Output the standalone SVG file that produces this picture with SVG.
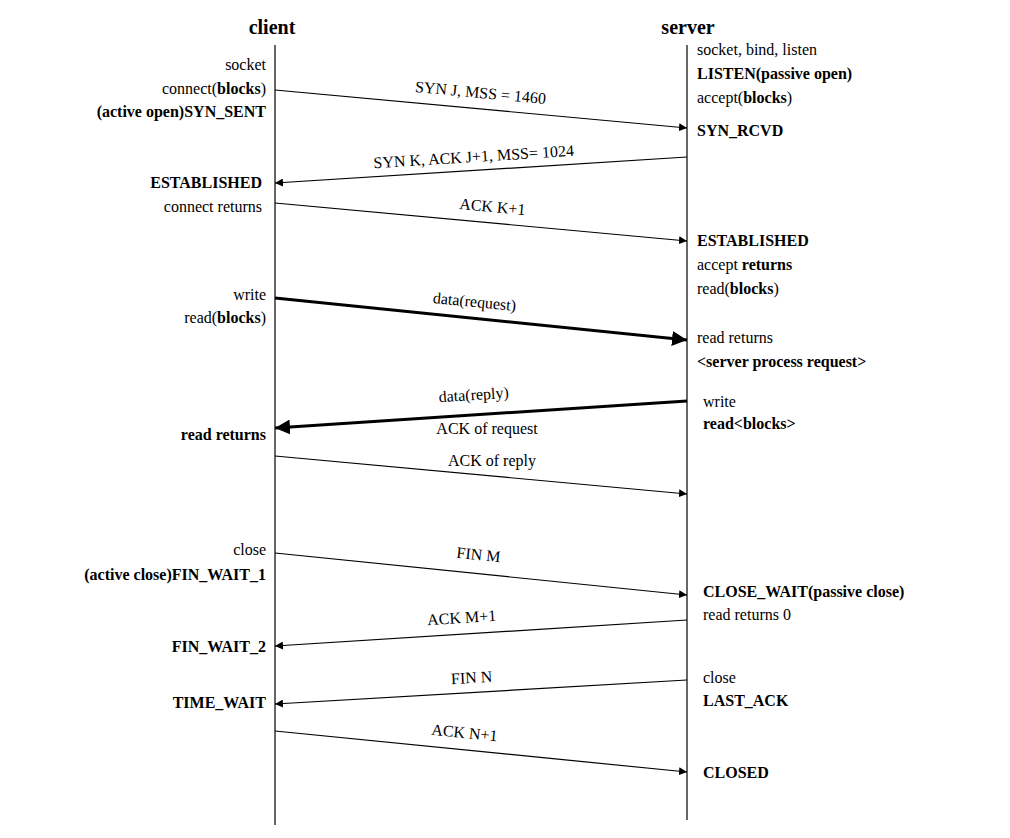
<svg xmlns="http://www.w3.org/2000/svg" width="1010" height="838" viewBox="0 0 1010 838">
<defs>
<marker id="ah" viewBox="0 0 10 10" refX="10" refY="5" markerWidth="8" markerHeight="8" markerUnits="userSpaceOnUse" orient="auto"><path d="M0,0 L10,5 L0,10 z" fill="#000"/></marker>
<marker id="ahb" viewBox="0 0 10 10" refX="10" refY="5" markerWidth="5" markerHeight="5" orient="auto"><path d="M0,0 L10,5 L0,10 z" fill="#000"/></marker>
</defs>
<style>
text{font-family:"Liberation Serif","DejaVu Serif",serif;font-size:16px;fill:#000}
.b{font-weight:bold}
.r{text-anchor:end}
.m{text-anchor:middle}
.h{font-size:20px;font-weight:bold}
.l{stroke:#000;stroke-width:1.2;fill:none}
.t{stroke:#000;stroke-width:3;fill:none}
</style>
<rect width="1010" height="838" fill="#fff"/>
<g id="client">
<text x="272" y="34" class="h m">client</text>
<line x1="275" y1="45" x2="275" y2="825" class="l"/>
<text x="266" y="70" class="r">socket</text>
<text x="266" y="94" class="r">connect(<tspan class="b">blocks</tspan>)</text>
<text x="266" y="117" class="r b">(active open)SYN_SENT</text>
<text x="262" y="188" class="r b">ESTABLISHED</text>
<text x="262" y="212" class="r">connect returns</text>
<text x="266" y="300" class="r">write</text>
<text x="266" y="323" class="r">read(<tspan class="b">blocks</tspan>)</text>
<text x="266" y="440" class="r b">read returns</text>
<text x="266" y="555" class="r">close</text>
<text x="266" y="580" class="r b">(active close)FIN_WAIT_1</text>
<text x="266" y="652" class="r b">FIN_WAIT_2</text>
<text x="266" y="708" class="r b">TIME_WAIT</text>
</g>
<g id="server">
<text x="688" y="34" class="h m">server</text>
<line x1="687" y1="45" x2="687" y2="820" class="l"/>
<text x="697" y="55">socket, bind, listen</text>
<text x="697" y="79" class="b">LISTEN(passive open)</text>
<text x="697" y="103">accept(<tspan class="b">blocks</tspan>)</text>
<text x="697" y="136" class="b">SYN_RCVD</text>
<text x="697" y="246" class="b">ESTABLISHED</text>
<text x="697" y="270">accept <tspan class="b">returns</tspan></text>
<text x="697" y="294">read(<tspan class="b">blocks</tspan>)</text>
<text x="697" y="343">read returns</text>
<text x="697" y="367" class="b">&lt;server process request&gt;</text>
<text x="703" y="407">write</text>
<text x="703" y="429" class="b">read&lt;blocks&gt;</text>
<text x="703" y="597" class="b">CLOSE_WAIT(passive close)</text>
<text x="703" y="620">read returns 0</text>
<text x="703" y="683">close</text>
<text x="703" y="706" class="b">LAST_ACK</text>
<text x="703" y="778" class="b">CLOSED</text>
</g>
<g id="connectors">
<line x1="275" y1="90" x2="687" y2="128" class="l" marker-end="url(#ah)"/>
<text x="480" y="98" class="m" transform="rotate(5.3 480 98)">SYN J, MSS = 1460</text>
<line x1="687" y1="157" x2="275" y2="183" class="l" marker-end="url(#ah)"/>
<text x="474" y="162" class="m" transform="rotate(-3.6 474 162)">SYN K, ACK J+1, MSS= 1024</text>
<line x1="275" y1="203" x2="687" y2="241" class="l" marker-end="url(#ah)"/>
<text x="492" y="212" class="m" transform="rotate(5.3 492 212)">ACK K+1</text>
<line x1="275" y1="298" x2="687" y2="340" class="t" marker-end="url(#ahb)"/>
<text x="474" y="307" class="m" transform="rotate(5.6 474 307)">data(request)</text>
<line x1="687" y1="401" x2="275" y2="428" class="t" marker-end="url(#ahb)"/>
<text x="474" y="400" class="m" transform="rotate(-3.7 474 400)">data(reply)</text>
<text x="487" y="434" class="m">ACK of request</text>
<line x1="275" y1="456" x2="687" y2="494" class="l" marker-end="url(#ah)"/>
<text x="492" y="466" class="m">ACK of reply</text>
<line x1="275" y1="553" x2="687" y2="595" class="l" marker-end="url(#ah)"/>
<text x="478" y="560" class="m" transform="rotate(5.8 478 560)">FIN M</text>
<line x1="687" y1="620" x2="275" y2="646" class="l" marker-end="url(#ah)"/>
<text x="462" y="623" class="m" transform="rotate(-3.6 462 623)">ACK M+1</text>
<line x1="687" y1="680" x2="275" y2="704" class="l" marker-end="url(#ah)"/>
<text x="472" y="683" class="m" transform="rotate(-3.3 472 683)">FIN N</text>
<line x1="275" y1="731" x2="687" y2="772" class="l" marker-end="url(#ah)"/>
<text x="464" y="738" class="m" transform="rotate(5.7 464 738)">ACK N+1</text>
</g>
</svg>
